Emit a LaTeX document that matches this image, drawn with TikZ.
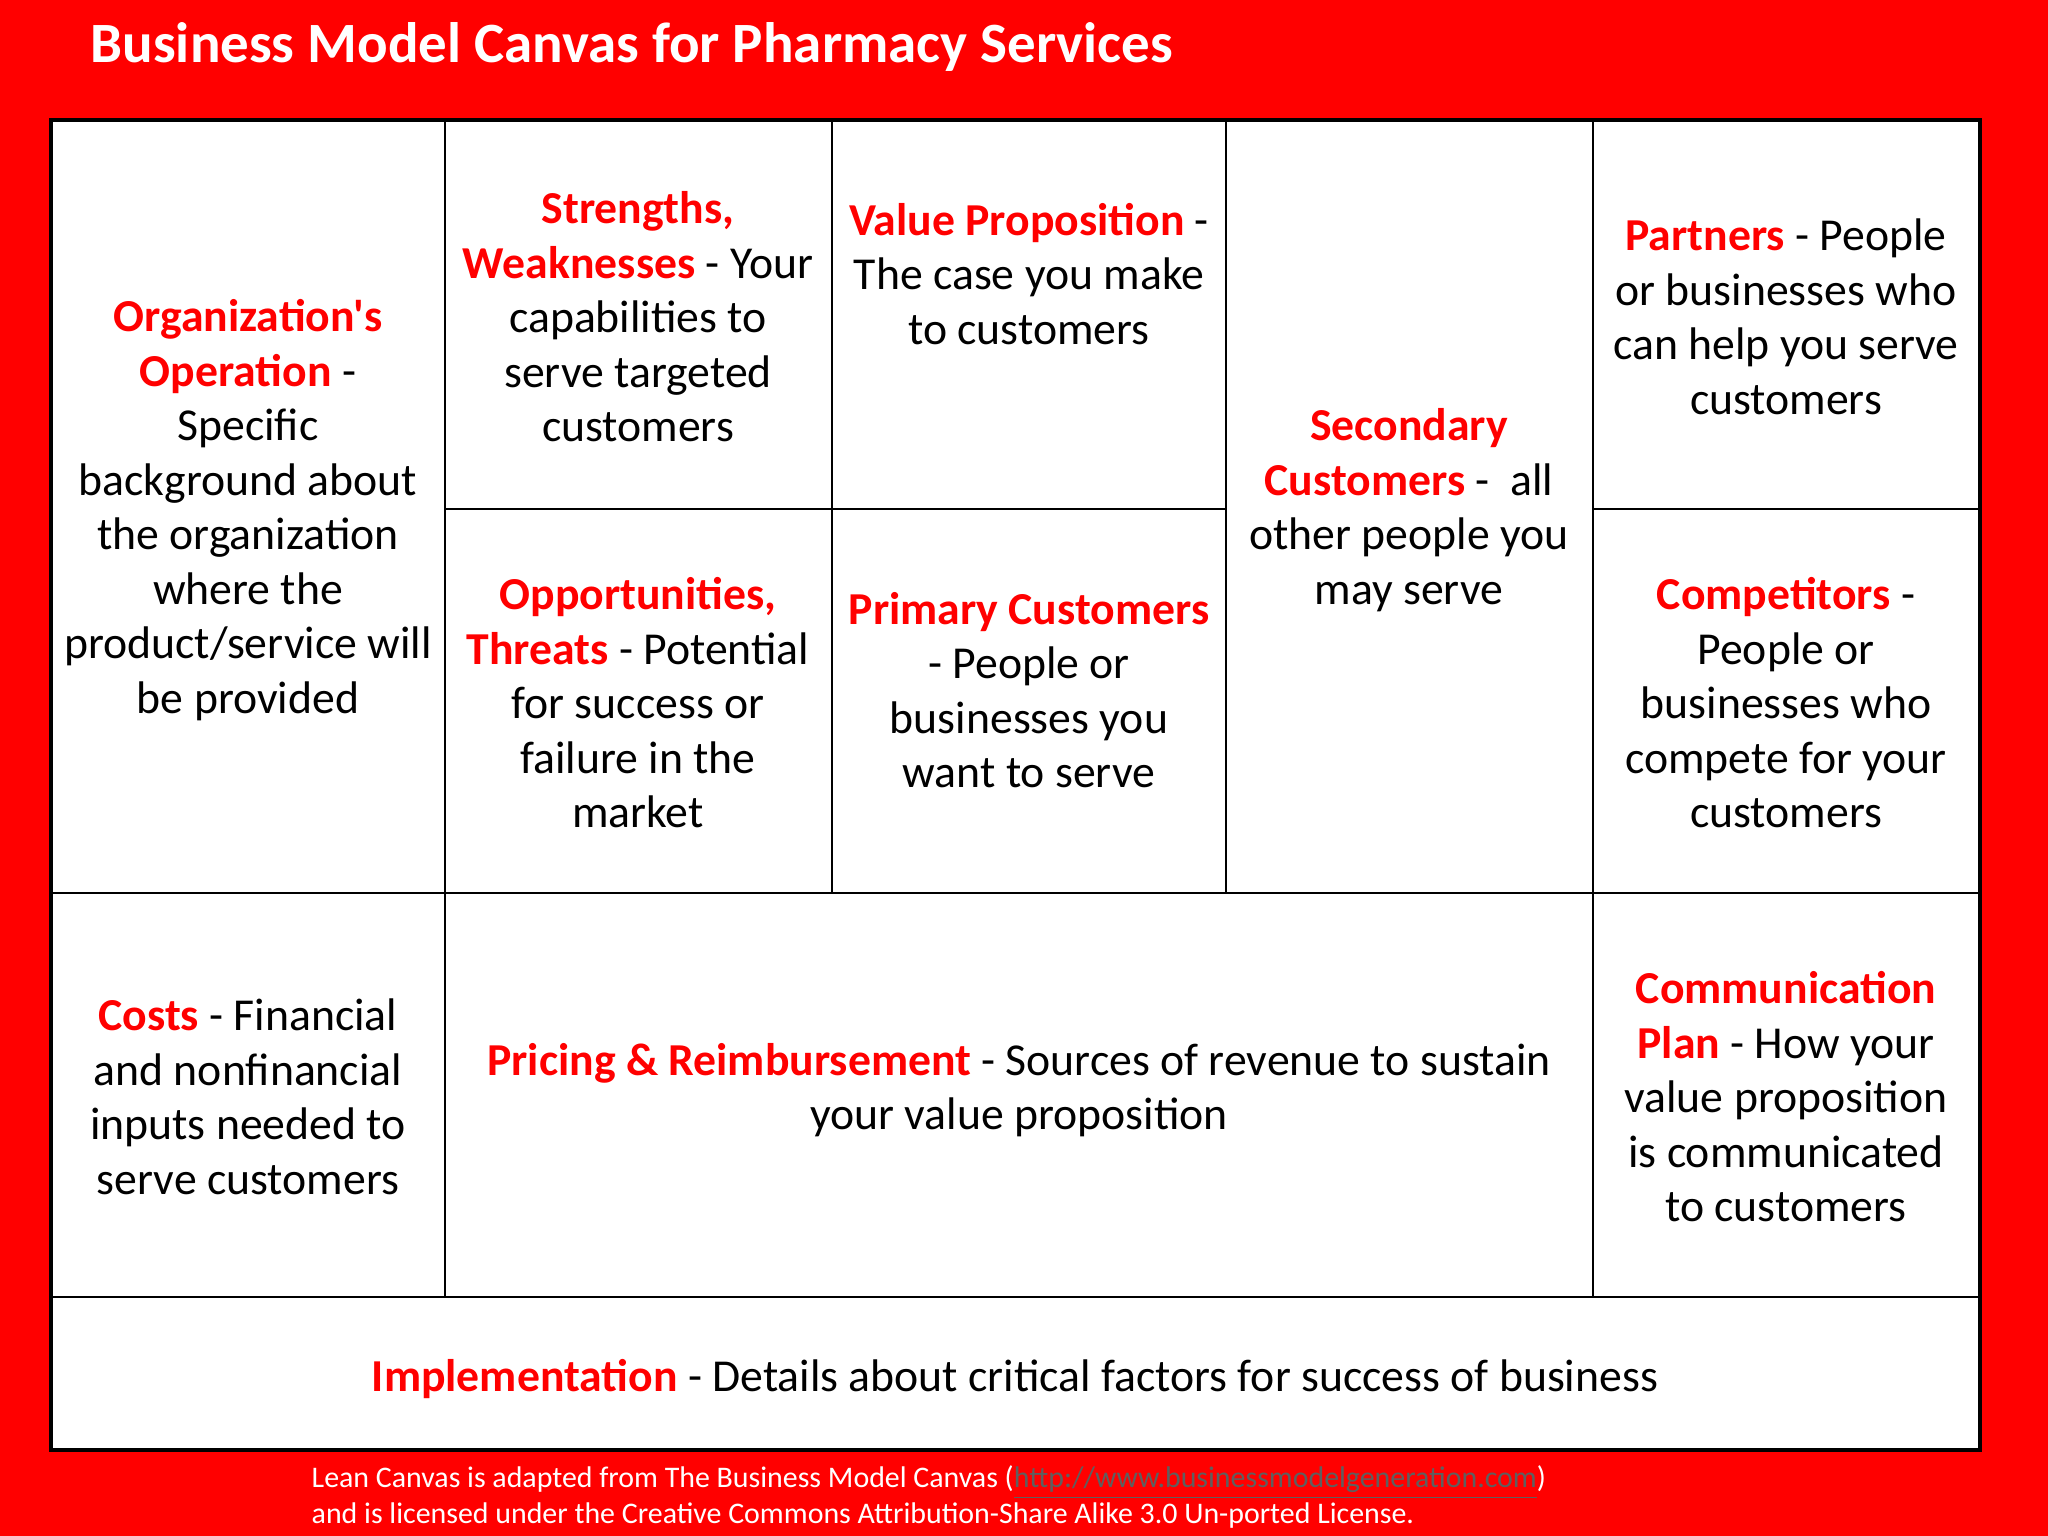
\documentclass[tikz,border=0pt]{standalone}
\usepackage{fontspec}
\setmainfont{Carlito}[Ligatures=TeXOff]
\usepackage{tikz}
\definecolor{canvasred}{RGB}{255,0,0}
\definecolor{linkgray}{RGB}{95,95,95}
\tikzstyle{frame} = [draw=black, line width=0.9pt, fill=white]
\tikzstyle{divider} = [draw=black, line width=0.8pt]
\tikzstyle{block} = [align=center, inner sep=0pt, font=\fontsize{13}{15.5}\selectfont]
\newcommand{\hd}[1]{\textcolor{canvasred}{\textbf{#1}}}

\begin{document}
\begin{tikzpicture}[x=0.01cm, y=-0.01cm]
        % Background and title
        \fill[canvasred] (0,0) rectangle (2048,1536);
        \useasboundingbox (0,0) rectangle (2048,1536);
        \node (title) [anchor=west, inner sep=0pt, text=white, font=\fontsize{16.2}{19}\selectfont\bfseries] at (90,47) {Business Model Canvas for Pharmacy Services};

        % Grid
        \draw[frame] (51,120) rectangle (1980,1450);
        \draw[divider] (445,120) -- (445,1297);
        \draw[divider] (832,120) -- (832,893);
        \draw[divider] (1226,120) -- (1226,893);
        \draw[divider] (1593,120) -- (1593,1297);
        \draw[divider] (445,509) -- (1226,509);
        \draw[divider] (1593,509) -- (1980,509);
        \draw[divider] (51,893) -- (1980,893);
        \draw[divider] (51,1297) -- (1980,1297);

        % Cells
        \node (operation) [block] at (248,510) {\hd{Organization's}\\\hd{Operation} -\\Specific\\background about\\the organization\\where the\\product/service will\\be provided};
        \node (strengths) [block] at (638,317) {\hd{Strengths,}\\\hd{Weaknesses} - Your\\capabilities to\\serve targeted\\customers};
        \node (value) [block] at (1029,274) {\hd{Value Proposition} -\\The case you make\\to customers};
        \node (secondary) [block] at (1409,510) {\hd{Secondary}\\\hd{Customers} -~ all\\other people you\\may serve};
        \node (partners) [block] at (1786,317) {\hd{Partners} - People\\or businesses who\\can help you serve\\customers};
        \node (threats) [block] at (638,703) {\hd{Opportunities,}\\\hd{Threats} - Potential\\for success or\\failure in the\\market};
        \node (primary) [block] at (1029,690) {\hd{Primary Customers}\\- People or\\businesses you\\want to serve};
        \node (competitors) [block] at (1786,703) {\hd{Competitors} -\\People or\\businesses who\\compete for your\\customers};
        \node (costs) [block] at (248,1097) {\hd{Costs} - Financial\\and nonfinancial\\inputs needed to\\serve customers};
        \node (pricing) [block] at (1019,1090) {\hd{Pricing \& Reimbursement} - Sources of revenue to sustain\\your value proposition};
        \node (communication) [block] at (1786,1097) {\hd{Communication}\\\hd{Plan} - How your\\value proposition\\is communicated\\to customers};
        \node (implementation) [block] at (1015,1379) {\hd{Implementation} - Details about critical factors for success of business};

        % Footer
        \node (footer) [anchor=west, align=left, inner sep=0pt, text=white, font=\fontsize{8.5}{10.2}\selectfont] at (311,1497) {Lean Canvas is adapted from The Business Model Canvas (\textcolor{linkgray}{\underline{http://www.businessmodelgeneration.com}})\\and is licensed under the Creative Commons Attribution-Share Alike 3.0 Un-ported License.};
    \end{tikzpicture}
\end{document}
